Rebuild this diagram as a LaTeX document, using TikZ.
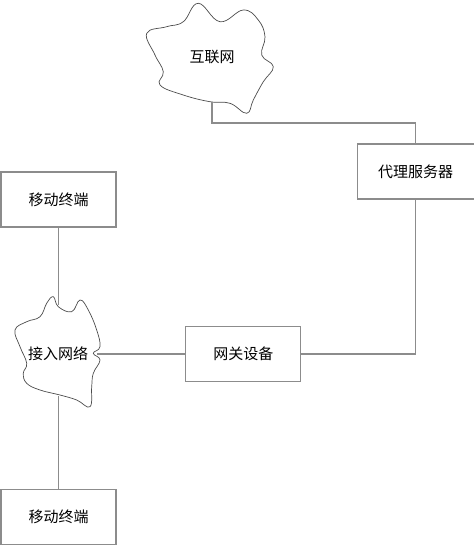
\documentclass[tikz,border=0pt]{standalone}
\usepackage{fontspec}
\newfontfamily\cjk{Noto Sans CJK SC}
\begin{document}
\begin{tikzpicture}[x=1pt,y=-1pt,
  box/.style={draw=black!45,line width=1.1pt,fill=white,minimum width=115pt,minimum height=55pt,inner sep=0pt,font=\cjk\fontsize{15}{17}\selectfont},
  cloudtxt/.style={inner sep=0pt,font=\cjk\fontsize{15}{17}\selectfont},
  cloudline/.style={draw=black!70,line width=0.7pt},
  conn/.style={draw=black!45,line width=1.1pt}]
\useasboundingbox (0,0) rectangle (474,547);
% Internet cloud
\draw[cloudline] plot[smooth cycle,tension=0.7] coordinates {
 (198.3,3.3) (220,21.7) (243.3,10) (258.3,20) (265,36.7) (261.7,55)
 (273.3,66.7) (263.3,81.7) (253.3,100) (246.7,113.3) (230,103.3)
 (210,101.7) (183.3,95) (160,85) (163.3,71.7) (155,55) (146.7,33.3)
 (166.7,26.7) (183.3,21.7)};
\node[cloudtxt] (inet) at (212,57) {互联网};
\coordinate (inetb) at (212,102);
% Access network cloud
\draw[cloudline] plot[smooth cycle,tension=0.7] coordinates {
 (53.3,296.7) (58.3,306.7) (71.7,311.7) (80,300) (88.3,310) (96.7,330)
 (100,346.7) (93.3,353.3) (100,360) (93.3,373.3) (91.7,386.7)
 (90,406.7) (76.7,400) (60,395) (40,390) (26.7,383.3) (23.3,373.3)
 (26.7,363.3) (20,346.7) (15,330) (26.7,321.7) (40,316.7) (46.7,303.3)};
\node[cloudtxt] (acc) at (58,354) {接入网络};
\coordinate (acct) at (58.5,305);
\coordinate (accb) at (58.5,396);
\coordinate (accr) at (97,354);
% boxes
\node[box] (mt1) at (58.5,199.5) {移动终端};
\node[box] (mt2) at (58.5,517) {移动终端};
\node[box] (gw) at (243.4,354) {网关设备};
\node[box,minimum width=117pt] (proxy) at (415.7,171.5) {代理服务器};
\coordinate (c1) at (415.7,123);
% connectors
\draw[conn] (inetb) |- (c1) -- (proxy.north);
\draw[conn] (mt1.south) -- (acct);
\draw[conn] (accb) -- (mt2.north);
\draw[conn] (accr) -- (gw.west);
\draw[conn] (gw.east) -| (proxy.south);
\end{tikzpicture}
\end{document}
